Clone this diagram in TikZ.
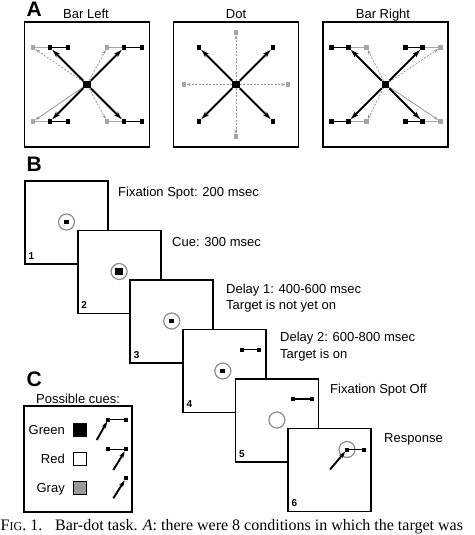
\documentclass[tikz,border=0pt]{standalone}
\usepackage{fontspec}
\setmainfont{Liberation Sans}
\newfontfamily\capfont{Liberation Serif}
\usetikzlibrary{arrows.meta,calc}
\tikzset{
  panelbox/.style={draw, line width=1.8pt, fill=white, inner sep=0pt, outer sep=0pt},
  abox/.style={panelbox, minimum size=125pt},
  bbox/.style={panelbox, minimum size=83pt, anchor=north west},
  tsq/.style={fill=black, inner sep=0pt, outer sep=0pt, minimum size=4.8pt},
  ssq/.style={fill=black, inner sep=0pt, outer sep=0pt, minimum size=4pt},
  gsq/.style={fill=black!35, inner sep=0pt, outer sep=0pt, minimum size=4.8pt},
  csq/.style={fill=black, inner sep=0pt, outer sep=0pt, minimum size=7.5pt},
  barb/.style={line width=1.9pt},
  barg/.style={draw=black!35, line width=1.9pt},
  barsm/.style={line width=1.2pt},
  blk/.style={line width=1.9pt, -{Stealth[length=8pt,width=5pt]}},
  gry/.style={draw=black!42, line width=0.75pt, -{Stealth[length=4.5pt,width=3pt]}},
  gdash/.style={dash pattern=on 2pt off 1.5pt},
  fixc/.style={circle, draw=black!45, line width=1.2pt, minimum size=16pt, inner sep=0pt},
  lbl/.style={font=\fontsize{13}{15}\selectfont, inner sep=0pt, anchor=base west},
  lblr/.style={font=\fontsize{13}{15}\selectfont, inner sep=0pt, anchor=base east},
  ttl/.style={font=\fontsize{13}{15}\selectfont, inner sep=0pt, anchor=base},
  big/.style={font=\fontsize{21}{24}\selectfont\bfseries, inner sep=0pt, anchor=base west},
  num/.style={font=\fontsize{10}{12}\selectfont\bfseries, inner sep=0pt, anchor=base west},
  cuesq/.style={draw, line width=1.1pt, minimum size=13pt, inner sep=0pt},
  captxt/.style={font=\capfont\fontsize{16}{18}\selectfont, inner sep=0pt, anchor=base west},
}
\begin{document}
\begin{tikzpicture}[x=1pt,y=-1pt]
\useasboundingbox (0,0) rectangle (474,535);

% ---------- Panel A ----------
\node[big] (lA) at (26.5,16.7) {A};
\node[ttl] (tA1) at (86,18.3) {Bar Left};
\node[ttl] (tA2) at (236,18.3) {Dot};
\node[ttl] (tA3) at (383,18.3) {Bar Right};
\node[abox] (A1) at (87,84.5) {};
\node[abox] (A2) at (236,84.5) {};
\node[abox] (A3) at (385.5,84.5) {};

% Bar Left
\node[csq] (c1) at (A1) {};
\foreach \n/\sx/\sy/\st in {a/-1/-1/gdash, b/1/-1/gdash, c/-1/1/solid, d/1/1/gdash}{
  \node[tsq] (t1\n) at ($(c1)+(37*\sx,37*\sy)$) {};
  \node[tsq] (e1\n) at ($(t1\n)+(18,0)$) {};
  \node[gsq] (g1\n) at ($(t1\n)+(-17,0)$) {};
  \draw[gry,\st] (c1) -- (g1\n);
  \draw[barg] (g1\n) -- (t1\n);
  \draw[barb] (t1\n) -- (e1\n);
}
\foreach \n in {a,b,c,d} \draw[blk] (c1) -- (t1\n);

% Dot
\node[csq] (c2) at (A2) {};
\foreach \n/\sx/\sy in {a/-1/-1, b/1/-1, c/-1/1, d/1/1}{
  \node[tsq] (t2\n) at ($(c2)+(37*\sx,37*\sy)$) {};
}
\foreach \n/\dx/\dy in {n/0/-52, s/0/52, w/-52/0, e/52/0}{
  \node[gsq] (g2\n) at ($(c2)+(\dx,\dy)$) {};
  \draw[gry,gdash] (c2) -- (g2\n);
}
\foreach \n in {a,b,c,d} \draw[blk] (c2) -- (t2\n);

% Bar Right
\node[csq] (c3) at (A3) {};
\foreach \n/\sx/\sy/\st in {a/-1/-1/gdash, b/1/-1/gdash, c/-1/1/gdash, d/1/1/solid}{
  \node[tsq] (t3\n) at ($(c3)+(37*\sx,37*\sy)$) {};
  \node[tsq] (e3\n) at ($(t3\n)+(-17,0)$) {};
  \node[gsq] (g3\n) at ($(t3\n)+(18,0)$) {};
  \draw[gry,\st] (c3) -- (g3\n);
  \draw[barg] (g3\n) -- (t3\n);
  \draw[barb] (t3\n) -- (e3\n);
}
\foreach \n in {a,b,c,d} \draw[blk] (c3) -- (t3\n);

% ---------- Panel B ----------
\node[big] (lB) at (26.5,171.7) {B};

\node[bbox] (b1) at (25,181) {};
\node[fixc] (f1) at ($(b1.north west)+(41.5,41)$) {};
\node[tsq] (s1) at (f1) {};
\node[num] (n1) at ($(b1.north west)+(3.5,78.3)$) {1};

\node[bbox] (b2) at (77.6,230.5) {};
\node[fixc] (f2) at ($(b2.north west)+(41.5,41)$) {};
\node[csq] (s2) at (f2) {};
\node[num] (n2) at ($(b2.north west)+(3.5,78.3)$) {2};

\node[bbox] (b3) at (130.2,280) {};
\node[fixc] (f3) at ($(b3.north west)+(41.5,41)$) {};
\node[tsq] (s3) at (f3) {};
\node[num] (n3) at ($(b3.north west)+(3.5,78.3)$) {3};

\node[bbox] (b4) at (182.8,329.5) {};
\node[fixc] (f4) at ($(b4.north west)+(40,41.5)$) {};
\node[tsq] (s4) at (f4) {};
\node[ssq] (t4) at ($(b4.north west)+(59,20)$) {};
\node[ssq] (e4) at ($(b4.north west)+(76,20)$) {};
\draw[barsm] (t4) -- (e4);
\node[num] (n4) at ($(b4.north west)+(3.5,78.3)$) {4};

\node[bbox] (b5) at (235.4,379) {};
\node[fixc] (f5) at ($(b5.north west)+(41.5,41)$) {};
\node[ssq] (t5) at ($(b5.north west)+(58,20)$) {};
\node[ssq] (e5) at ($(b5.north west)+(77,20)$) {};
\draw[barsm] (t5) -- (e5);
\node[num] (n5) at ($(b5.north west)+(3.5,78.3)$) {5};

\node[bbox] (b6) at (288,428.5) {};
\node[ssq] (t6) at ($(b6.north west)+(59,21)$) {};
\node[ssq] (e6) at ($(b6.north west)+(76,21)$) {};
\node[fixc] (f6) at (t6) {};
\draw[barsm] (t6) -- (e6);
\coordinate (h6) at ($(b6.north west)+(42,41)$);
\draw[blk, -{Stealth[length=7pt,width=4.5pt]}] (h6) -- (t6);
\node[num] (n6) at ($(b6.north west)+(3.5,78.3)$) {6};

\node[lbl] (l1) at (118,196) {Fixation Spot: 200 msec};
\node[lbl] (l2) at (172,246) {Cue: 300 msec};
\node[lbl] (l3) at (226,293) {Delay 1: 400-600 msec};
\node[lbl] (l3b) at (226,309.5) {Target is not yet on};
\node[lbl] (l4) at (280,341.7) {Delay 2: 600-800 msec};
\node[lbl] (l4b) at (280,358) {Target is on};
\node[lbl] (l5) at (330,393.3) {Fixation Spot Off};
\node[lbl] (l6) at (384,442.7) {Response};

% ---------- Panel C ----------
\node[big] (lC) at (26.5,386) {C};
\node[lbl] (pc) at (36,403.3) {Possible cues:};
\node[panelbox, minimum width=108pt, minimum height=106pt] (C) at (78,459) {};
\node[lblr] (cg) at (65,434) {Green};
\node[lblr] (cr) at (65,463.3) {Red};
\node[lblr] (cy) at (65,492.7) {Gray};
\node[cuesq, fill=black] (qg) at (79.7,430) {};
\node[cuesq, fill=white] (qr) at (79.7,459) {};
\node[cuesq, fill=black!40] (qy) at (79.7,488) {};

\node[ssq] (cgt) at (108.3,419.5) {};
\node[ssq] (cge) at (126,419.5) {};
\draw[barsm] (cgt) -- (cge);
\coordinate (cgh) at (96.7,440);
\draw[blk, -{Stealth[length=7pt,width=4.5pt]}] (cgh) -- (cgt);

\node[ssq] (crb) at (108.3,449.3) {};
\node[ssq] (crt) at (126,449.3) {};
\draw[barsm] (crb) -- (crt);
\coordinate (crh) at (113.3,470);
\draw[blk, -{Stealth[length=7pt,width=4.5pt]}] (crh) -- (crt);

\node[ssq] (cyt) at (126,478.3) {};
\coordinate (cyh) at (113.3,498.3);
\draw[blk, -{Stealth[length=7pt,width=4.5pt]}] (cyh) -- (cyt);

% ---------- caption ----------
\node[captxt] (cap1) at (0.5,530.5) {F{\fontsize{12}{14}\selectfont IG}. 1.};
\node[captxt] (cap2) at (55,530.5) {Bar-dot task. \textit{A}: there were 8 conditions in which the target was};
\end{tikzpicture}
\end{document}
